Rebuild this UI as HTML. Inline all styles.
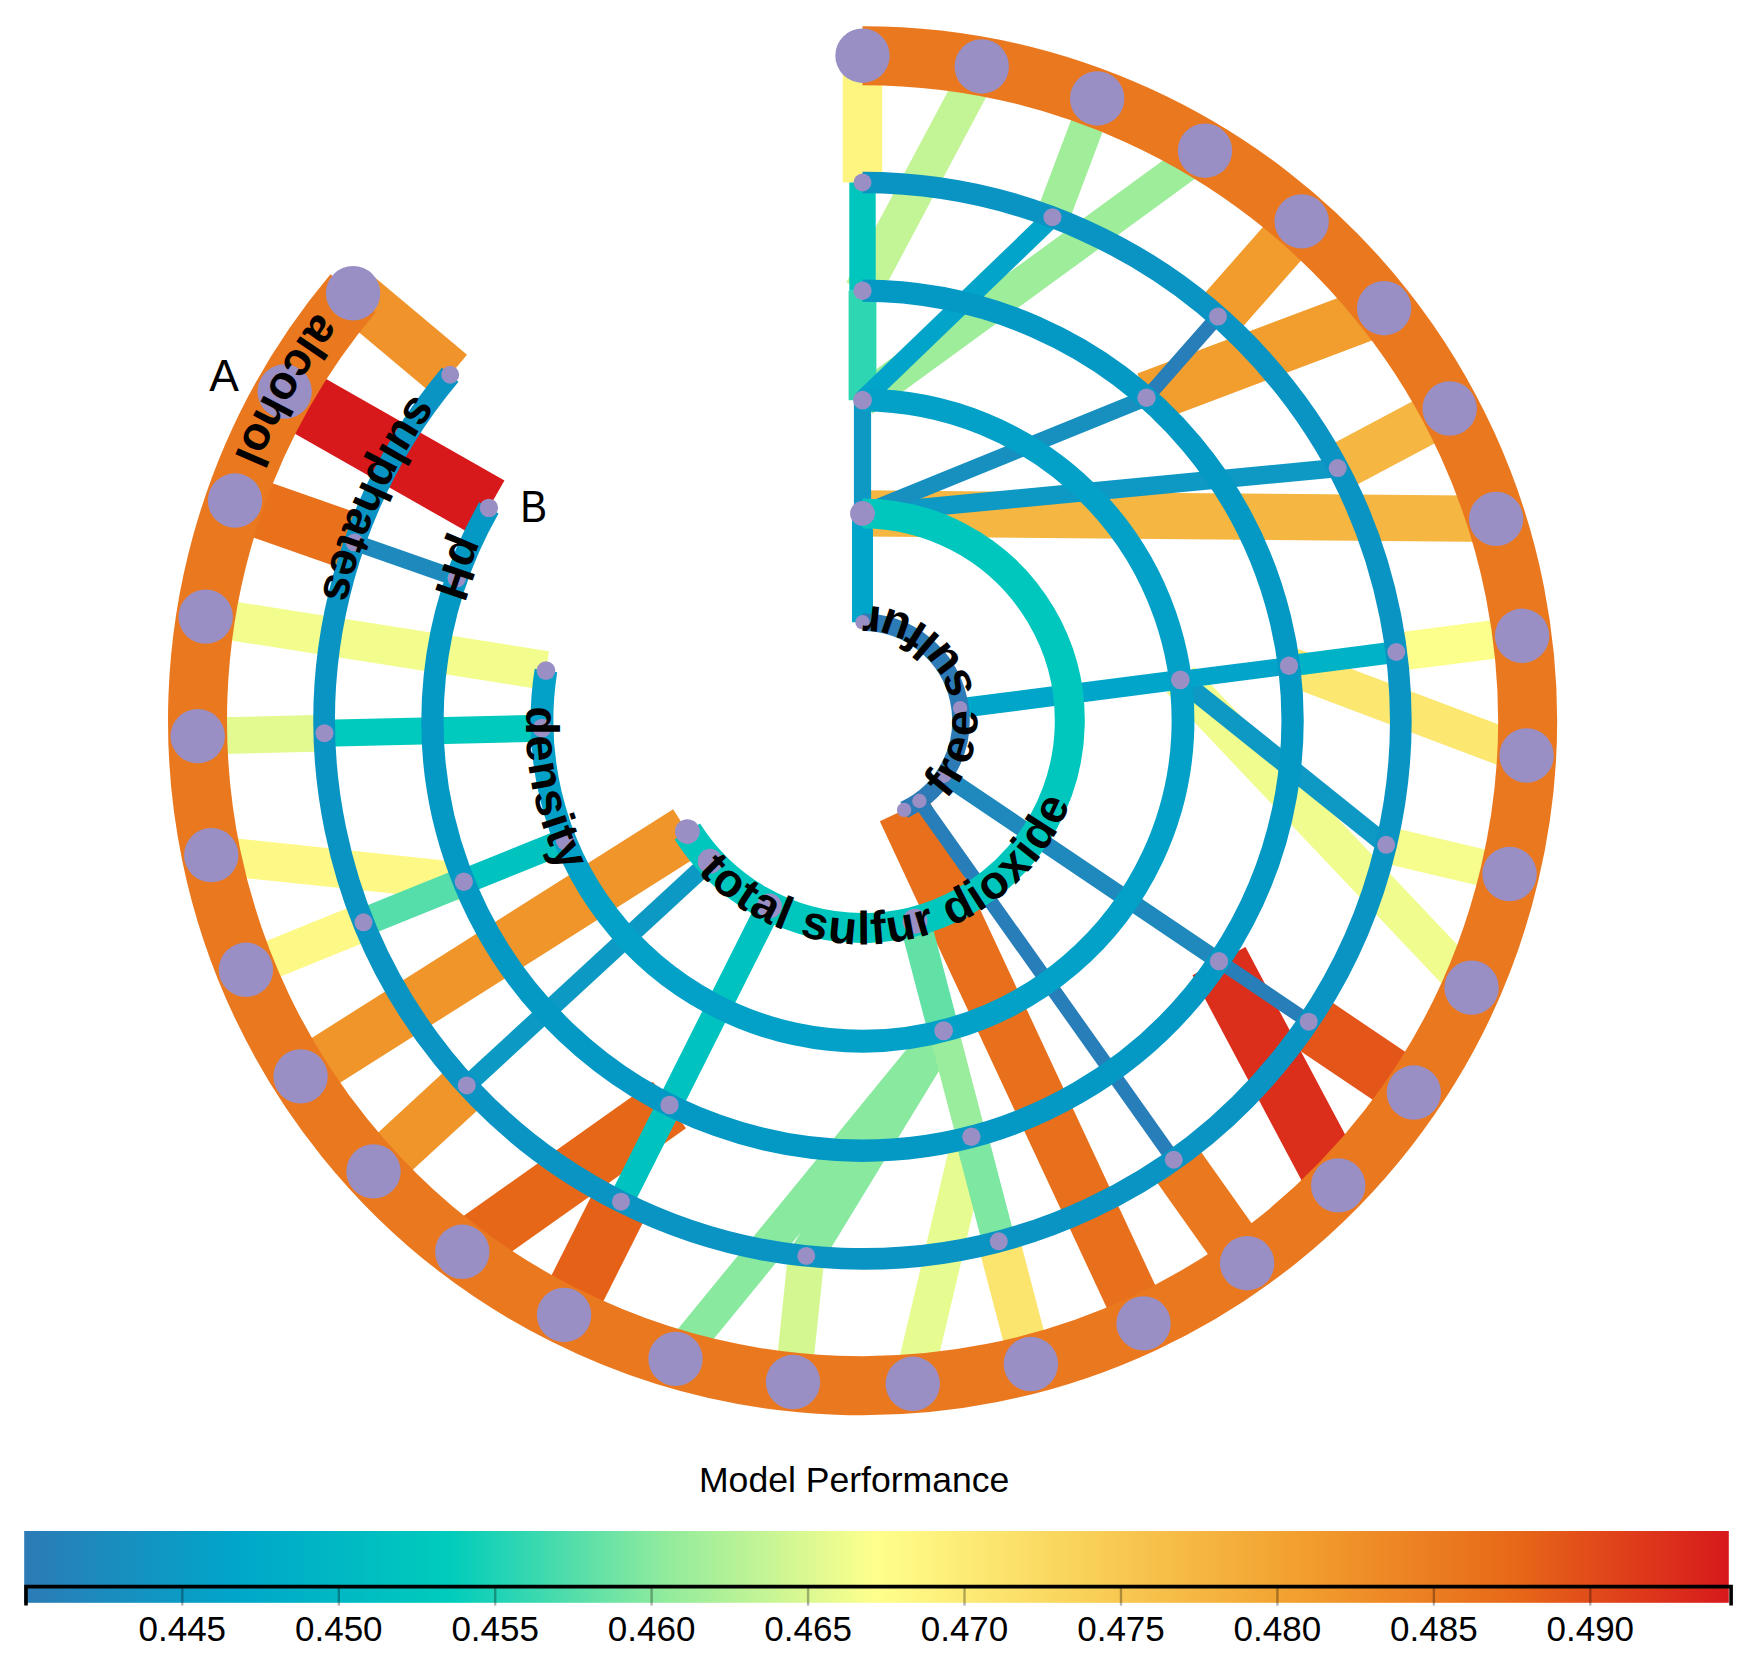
<!DOCTYPE html>
<html><head><meta charset="utf-8"><title>Model Performance</title>
<style>
html,body{margin:0;padding:0;background:#fff;}
svg{display:block;}
text{font-family:"Liberation Sans",sans-serif;}
.lab{font-weight:bold;font-size:47px;fill:#000;}
.tick{font-size:35px;fill:#000;text-anchor:middle;}
</style></head><body>
<svg width="1745" height="1673" viewBox="0 0 1745 1673">
<rect width="1745" height="1673" fill="#fff"/>
<defs><linearGradient id="g" x1="0" x2="1" y1="0" y2="0"><stop offset="0.0%" stop-color="#2c7bb6"/><stop offset="12.5%" stop-color="#00a6ca"/><stop offset="25.0%" stop-color="#00ccbc"/><stop offset="37.5%" stop-color="#90eb9d"/><stop offset="50.0%" stop-color="#ffff8c"/><stop offset="62.5%" stop-color="#f9d057"/><stop offset="75.0%" stop-color="#f29e2e"/><stop offset="87.5%" stop-color="#e76818"/><stop offset="100.0%" stop-color="#d7191c"/></linearGradient>
<path id="tp1" d="M353.08,293.25 A665.00,665.00 0 1 0 862.50,55.70"/>
<path id="tp2" d="M450.21,374.75 A538.20,538.20 0 1 0 862.50,182.50"/>
<path id="tp3" d="M488.86,507.87 A430.00,430.00 0 1 0 862.50,290.70"/>
<path id="tp4" d="M545.95,670.56 A320.50,320.50 0 1 0 862.50,400.20"/>
<path id="tp5" d="M687.34,831.57 A207.30,207.30 0 1 0 862.50,513.40"/>
<path id="tp6" d="M904.09,809.88 A98.40,98.40 0 0 0 862.50,622.30"/>
</defs>
<g fill="none" stroke-linecap="butt">
<line x1="284.67" y1="391.56" x2="488.86" y2="507.87" stroke="#d7191c" stroke-width="63.0"/>
<line x1="1338.17" y1="1185.42" x2="1218.99" y2="961.15" stroke="#db2f1b" stroke-width="60.0"/>
<line x1="1413.81" y1="1092.56" x2="1308.69" y2="1021.66" stroke="#e35519" stroke-width="58.0"/>
<line x1="564.05" y1="1314.97" x2="620.96" y2="1201.65" stroke="#e66118" stroke-width="58.0"/>
<line x1="235.00" y1="500.54" x2="354.65" y2="542.52" stroke="#e9711c" stroke-width="57.5"/>
<line x1="462.29" y1="1251.79" x2="669.52" y2="1104.96" stroke="#e76718" stroke-width="57.0"/>
<line x1="1247.09" y1="1263.21" x2="1173.76" y2="1159.76" stroke="#ea781f" stroke-width="53.5"/>
<line x1="1143.54" y1="1323.39" x2="904.09" y2="809.88" stroke="#e86f1b" stroke-width="53.5"/>
<line x1="300.61" y1="1076.37" x2="687.34" y2="831.57" stroke="#f0952a" stroke-width="53.0"/>
<line x1="353.08" y1="293.25" x2="450.21" y2="374.75" stroke="#f0932a" stroke-width="52.4"/>
<line x1="1384.14" y1="308.24" x2="1146.49" y2="397.82" stroke="#f29e2e" stroke-width="52.0"/>
<line x1="373.52" y1="1171.39" x2="466.76" y2="1085.46" stroke="#f0952a" stroke-width="50.9"/>
<line x1="1301.69" y1="221.36" x2="1217.95" y2="316.58" stroke="#f29c2d" stroke-width="50.7"/>
<line x1="1449.66" y1="408.50" x2="1337.70" y2="468.03" stroke="#f5b642" stroke-width="47.5"/>
<line x1="1496.14" y1="518.89" x2="862.50" y2="513.40" stroke="#f5b642" stroke-width="46.2"/>
<line x1="1030.87" y1="1364.03" x2="998.77" y2="1241.36" stroke="#fce56f" stroke-width="42.0"/>
<line x1="862.50" y1="55.70" x2="862.50" y2="182.50" stroke="#fef581" stroke-width="39.5"/>
<line x1="205.69" y1="616.67" x2="545.95" y2="670.56" stroke="#f2fd8e" stroke-width="39.0"/>
<line x1="1522.06" y1="635.82" x2="1396.30" y2="652.00" stroke="#fdff8c" stroke-width="38.5"/>
<line x1="211.24" y1="855.17" x2="463.81" y2="881.78" stroke="#fef986" stroke-width="38.4"/>
<line x1="1526.59" y1="755.50" x2="1288.98" y2="665.81" stroke="#fce771" stroke-width="38.3"/>
<line x1="245.92" y1="969.81" x2="363.49" y2="922.31" stroke="#fef986" stroke-width="38.3"/>
<line x1="1471.57" y1="987.64" x2="1180.38" y2="679.79" stroke="#f0fc8e" stroke-width="38.0"/>
<line x1="912.75" y1="1383.80" x2="971.37" y2="1136.69" stroke="#e6fb90" stroke-width="38.0"/>
<line x1="1509.57" y1="874.06" x2="1386.19" y2="844.82" stroke="#f6fd8d" stroke-width="36.7"/>
<line x1="197.68" y1="736.17" x2="324.45" y2="733.22" stroke="#e2fa90" stroke-width="36.7"/>
<line x1="792.99" y1="1382.06" x2="806.24" y2="1255.95" stroke="#d5f792" stroke-width="36.6"/>
<line x1="981.78" y1="66.49" x2="862.50" y2="290.70" stroke="#c3f495" stroke-width="36.5"/>
<line x1="806.24" y1="1255.95" x2="943.65" y2="1030.76" stroke="#88e99f" stroke-width="34.0"/>
<line x1="675.49" y1="1358.86" x2="943.65" y2="1030.76" stroke="#88e99f" stroke-width="34.0"/>
<line x1="1097.20" y1="98.49" x2="1052.45" y2="217.13" stroke="#a1ee9a" stroke-width="33.7"/>
<line x1="1205.00" y1="150.68" x2="862.50" y2="400.20" stroke="#9ded9b" stroke-width="33.7"/>
<line x1="998.77" y1="1241.36" x2="971.37" y2="1136.69" stroke="#7ee7a1" stroke-width="33.0"/>
<line x1="943.65" y1="1030.76" x2="914.99" y2="921.25" stroke="#62e1a7" stroke-width="31.2"/>
<line x1="971.37" y1="1136.69" x2="943.65" y2="1030.76" stroke="#99ed9c" stroke-width="29.8"/>
<line x1="363.49" y1="922.31" x2="463.81" y2="881.78" stroke="#55deaa" stroke-width="28.6"/>
<line x1="862.50" y1="290.70" x2="862.50" y2="400.20" stroke="#2ed6b2" stroke-width="27.8"/>
<line x1="324.45" y1="733.22" x2="542.09" y2="728.16" stroke="#00c9bd" stroke-width="27.0"/>
<line x1="862.50" y1="182.50" x2="862.50" y2="290.70" stroke="#00c6be" stroke-width="26.4"/>
<line x1="669.52" y1="1104.96" x2="769.46" y2="905.95" stroke="#00c3bf" stroke-width="25.6"/>
<line x1="620.96" y1="1201.65" x2="669.52" y2="1104.96" stroke="#00c3bf" stroke-width="25.5"/>
<line x1="463.81" y1="881.78" x2="565.34" y2="840.76" stroke="#00c3bf" stroke-width="25.3"/>
<line x1="1396.30" y1="652.00" x2="1288.98" y2="665.81" stroke="#00b2c6" stroke-width="21.5"/>
<line x1="862.50" y1="513.40" x2="862.50" y2="622.30" stroke="#00a6ca" stroke-width="21.0"/>
<line x1="1180.38" y1="679.79" x2="960.10" y2="708.14" stroke="#00a6ca" stroke-width="19.8"/>
<line x1="1052.45" y1="217.13" x2="862.50" y2="400.20" stroke="#02a4c9" stroke-width="19.0"/>
<line x1="1386.19" y1="844.82" x2="1180.38" y2="679.79" stroke="#0e98c4" stroke-width="19.0"/>
<line x1="466.76" y1="1085.46" x2="710.07" y2="861.19" stroke="#0c9ac4" stroke-width="18.6"/>
<line x1="1337.70" y1="468.03" x2="862.50" y2="513.40" stroke="#0e98c4" stroke-width="18.5"/>
<line x1="1288.98" y1="665.81" x2="1180.38" y2="679.79" stroke="#02a4c9" stroke-width="17.5"/>
<line x1="862.50" y1="400.20" x2="862.50" y2="513.40" stroke="#0e98c4" stroke-width="17.2"/>
<line x1="1218.99" y1="961.15" x2="944.08" y2="775.72" stroke="#1f88bc" stroke-width="17.0"/>
<line x1="1146.49" y1="397.82" x2="862.50" y2="513.40" stroke="#1790c0" stroke-width="16.5"/>
<line x1="354.65" y1="542.52" x2="456.75" y2="578.34" stroke="#1e89bc" stroke-width="16.5"/>
<line x1="1217.95" y1="316.58" x2="1146.49" y2="397.82" stroke="#287eb8" stroke-width="14.5"/>
<line x1="1308.69" y1="1021.66" x2="1218.99" y2="961.15" stroke="#287eb8" stroke-width="14.3"/>
<line x1="1173.76" y1="1159.76" x2="919.41" y2="800.97" stroke="#287eb8" stroke-width="14.3"/>
</g>
<g fill="none">
<path d="M862.50,55.70 A665.00,665.00 0 1 1 353.08,293.25" stroke="#ea781f" stroke-width="59.0"/>
<path d="M862.50,182.50 A538.20,538.20 0 1 1 450.21,374.75" stroke="#0a94c3" stroke-width="21.7"/>
<path d="M862.50,290.70 A430.00,430.00 0 1 1 488.86,507.87" stroke="#0498c5" stroke-width="22.3"/>
<path d="M862.50,400.20 A320.50,320.50 0 1 1 545.95,670.56" stroke="#03a0c8" stroke-width="22.8"/>
<path d="M862.50,513.40 A207.30,207.30 0 1 1 687.34,831.57" stroke="#00c7be" stroke-width="30.0"/>
<path d="M862.50,622.30 A98.40,98.40 0 0 1 904.09,809.88" stroke="#2c7bb6" stroke-width="17.5"/>
</g>
<g fill="#998fc5">
<circle cx="862.50" cy="55.70" r="27.2"/>
<circle cx="981.78" cy="66.49" r="27.2"/>
<circle cx="1097.20" cy="98.49" r="27.2"/>
<circle cx="1205.00" cy="150.68" r="27.2"/>
<circle cx="1301.69" cy="221.36" r="27.2"/>
<circle cx="1384.14" cy="308.24" r="27.2"/>
<circle cx="1449.66" cy="408.50" r="27.2"/>
<circle cx="1496.14" cy="518.89" r="27.2"/>
<circle cx="1522.06" cy="635.82" r="27.2"/>
<circle cx="1526.59" cy="755.50" r="27.2"/>
<circle cx="1509.57" cy="874.06" r="27.2"/>
<circle cx="1471.57" cy="987.64" r="27.2"/>
<circle cx="1413.81" cy="1092.56" r="27.2"/>
<circle cx="1338.17" cy="1185.42" r="27.2"/>
<circle cx="1247.09" cy="1263.21" r="27.2"/>
<circle cx="1143.54" cy="1323.39" r="27.2"/>
<circle cx="1030.87" cy="1364.03" r="27.2"/>
<circle cx="912.75" cy="1383.80" r="27.2"/>
<circle cx="792.99" cy="1382.06" r="27.2"/>
<circle cx="675.49" cy="1358.86" r="27.2"/>
<circle cx="564.05" cy="1314.97" r="27.2"/>
<circle cx="462.29" cy="1251.79" r="27.2"/>
<circle cx="373.52" cy="1171.39" r="27.2"/>
<circle cx="300.61" cy="1076.37" r="27.2"/>
<circle cx="245.92" cy="969.81" r="27.2"/>
<circle cx="211.24" cy="855.17" r="27.2"/>
<circle cx="197.68" cy="736.17" r="27.2"/>
<circle cx="205.69" cy="616.67" r="27.2"/>
<circle cx="235.00" cy="500.54" r="27.2"/>
<circle cx="284.67" cy="391.56" r="27.2"/>
<circle cx="353.08" cy="293.25" r="27.2"/>
<circle cx="862.50" cy="182.50" r="9.0"/>
<circle cx="1052.45" cy="217.13" r="9.0"/>
<circle cx="1217.95" cy="316.58" r="9.0"/>
<circle cx="1337.70" cy="468.03" r="9.0"/>
<circle cx="1396.30" cy="652.00" r="9.0"/>
<circle cx="1386.19" cy="844.82" r="9.0"/>
<circle cx="1308.69" cy="1021.66" r="9.0"/>
<circle cx="1173.76" cy="1159.76" r="9.0"/>
<circle cx="998.77" cy="1241.36" r="9.0"/>
<circle cx="806.24" cy="1255.95" r="9.0"/>
<circle cx="620.96" cy="1201.65" r="9.0"/>
<circle cx="466.76" cy="1085.46" r="9.0"/>
<circle cx="363.49" cy="922.31" r="9.0"/>
<circle cx="324.45" cy="733.22" r="9.0"/>
<circle cx="354.65" cy="542.52" r="9.0"/>
<circle cx="450.21" cy="374.75" r="9.0"/>
<circle cx="862.50" cy="290.70" r="9.2"/>
<circle cx="1146.49" cy="397.82" r="9.2"/>
<circle cx="1288.98" cy="665.81" r="9.2"/>
<circle cx="1218.99" cy="961.15" r="9.2"/>
<circle cx="971.37" cy="1136.69" r="9.2"/>
<circle cx="669.52" cy="1104.96" r="9.2"/>
<circle cx="463.81" cy="881.78" r="9.2"/>
<circle cx="456.75" cy="578.34" r="9.2"/>
<circle cx="488.86" cy="507.87" r="9.2"/>
<circle cx="862.50" cy="400.20" r="9.4"/>
<circle cx="1180.38" cy="679.79" r="9.4"/>
<circle cx="943.65" cy="1030.76" r="9.4"/>
<circle cx="565.34" cy="840.76" r="9.4"/>
<circle cx="542.09" cy="728.16" r="9.4"/>
<circle cx="545.95" cy="670.56" r="9.4"/>
<circle cx="862.50" cy="513.40" r="12.4"/>
<circle cx="914.99" cy="921.25" r="12.4"/>
<circle cx="769.46" cy="905.95" r="12.4"/>
<circle cx="710.07" cy="861.19" r="12.4"/>
<circle cx="687.34" cy="831.57" r="12.4"/>
<circle cx="862.50" cy="622.30" r="7.2"/>
<circle cx="960.10" cy="708.14" r="7.2"/>
<circle cx="944.08" cy="775.72" r="7.2"/>
<circle cx="919.41" cy="800.97" r="7.2"/>
<circle cx="904.09" cy="809.88" r="7.2"/>
</g>
<text class="lab" dy="0.35em"><textPath href="#tp1" startOffset="36">alcohol</textPath></text>
<text class="lab" dy="0.35em"><textPath href="#tp2" startOffset="36">sulphates</textPath></text>
<text class="lab" dy="0.35em"><textPath href="#tp3" startOffset="36">pH</textPath></text>
<text class="lab" dy="0.35em"><textPath href="#tp4" startOffset="36">density</textPath></text>
<text class="lab" dy="0.35em"><textPath href="#tp5" startOffset="36">total sulfur dioxide</textPath></text>
<text class="lab" dy="0.35em"><textPath href="#tp6" startOffset="36">free sulfur dioxide</textPath></text>
<text x="209.2" y="390.7" font-size="44.5">A</text>
<text transform="translate(520.3,522.1) scale(0.9,1)" font-size="44.7">B</text>
<text x="854.2" y="1492" font-size="35.6" text-anchor="middle">Model Performance</text>
<rect x="24.2" y="1531" width="1704.6" height="71.8" fill="url(#g)"/>
<path d="M26.0,1605.6 V1586.6 H1731.1 V1605.6" fill="none" stroke="#000" stroke-width="3.6"/>
<line x1="182.3" x2="182.3" y1="1588" y2="1605.6" stroke="#000" stroke-opacity="0.3" stroke-width="2.4"/>
<text class="tick" x="182.3" y="1641">0.445</text>
<line x1="338.8" x2="338.8" y1="1588" y2="1605.6" stroke="#000" stroke-opacity="0.3" stroke-width="2.4"/>
<text class="tick" x="338.8" y="1641">0.450</text>
<line x1="495.2" x2="495.2" y1="1588" y2="1605.6" stroke="#000" stroke-opacity="0.3" stroke-width="2.4"/>
<text class="tick" x="495.2" y="1641">0.455</text>
<line x1="651.6" x2="651.6" y1="1588" y2="1605.6" stroke="#000" stroke-opacity="0.3" stroke-width="2.4"/>
<text class="tick" x="651.6" y="1641">0.460</text>
<line x1="808.1" x2="808.1" y1="1588" y2="1605.6" stroke="#000" stroke-opacity="0.3" stroke-width="2.4"/>
<text class="tick" x="808.1" y="1641">0.465</text>
<line x1="964.5" x2="964.5" y1="1588" y2="1605.6" stroke="#000" stroke-opacity="0.3" stroke-width="2.4"/>
<text class="tick" x="964.5" y="1641">0.470</text>
<line x1="1121.0" x2="1121.0" y1="1588" y2="1605.6" stroke="#000" stroke-opacity="0.3" stroke-width="2.4"/>
<text class="tick" x="1121.0" y="1641">0.475</text>
<line x1="1277.4" x2="1277.4" y1="1588" y2="1605.6" stroke="#000" stroke-opacity="0.3" stroke-width="2.4"/>
<text class="tick" x="1277.4" y="1641">0.480</text>
<line x1="1433.9" x2="1433.9" y1="1588" y2="1605.6" stroke="#000" stroke-opacity="0.3" stroke-width="2.4"/>
<text class="tick" x="1433.9" y="1641">0.485</text>
<line x1="1590.3" x2="1590.3" y1="1588" y2="1605.6" stroke="#000" stroke-opacity="0.3" stroke-width="2.4"/>
<text class="tick" x="1590.3" y="1641">0.490</text>
</svg>
</body></html>
